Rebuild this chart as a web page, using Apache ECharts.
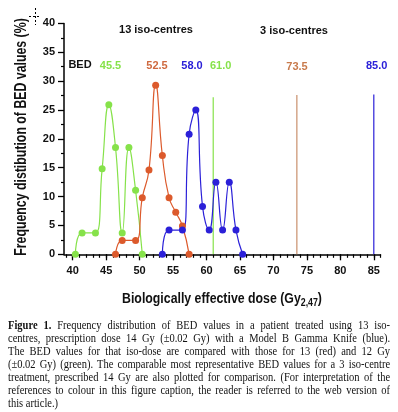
<!DOCTYPE html>
<html>
<head>
<meta charset="utf-8">
<script src="https://cdn.jsdelivr.net/npm/echarts@6/dist/echarts.min.js"></script>
<style>
  html, body { margin: 0; padding: 0; background: #fff; }
  #wrap { position: relative; width: 398px; height: 412px; overflow: hidden; }
  #main { position: absolute; left: 0; top: 0; width: 398px; height: 412px; }
  .caption {
    position: absolute; left: 8px; top: 319px; width: 466px;
    transform: scaleX(0.82); transform-origin: 0 0;
    font-family: "Liberation Serif", "DejaVu Serif", serif; font-size: 12.8px; line-height: 13px; color: #111;
  }
  .caption div { white-space: nowrap; text-align: justify; text-align-last: justify; }
  .caption div.last { text-align-last: left; }
</style>
</head>
<body>
<div id="wrap">
  <div id="main"></div>
  <div class="caption">
    <div><b>Figure 1.</b> Frequency distribution of BED values in a patient treated using 13 iso-</div>
    <div>centres, prescription dose 14 Gy (±0.02 Gy) with a Model B Gamma Knife (blue).</div>
    <div>The BED values for that iso-dose are compared with those for 13 (red) and 12 Gy</div>
    <div>(±0.02 Gy) (green). The comparable most representative BED values for a 3 iso-centre</div>
    <div>treatment, prescribed 14 Gy are also plotted for comparison. (For interpretation of the</div>
    <div>references to colour in this figure caption, the reader is referred to the web version of</div>
    <div class="last">this article.)</div>
  </div>
</div>
<script>
    // 12 Gy (green), 13 Gy (red), 14 Gy (blue) - 13 iso-centres
    var greenX = [40.4, 41.4, 43.4, 44.4, 45.4, 46.4, 47.4, 48.4, 49.4, 50.4];
    var greenY = [0, 3.7, 3.7, 14.8, 25.9, 18.5, 3.7, 18.5, 11.1, 0];
    var redX = [46.4, 47.4, 49.4, 50.4, 51.4, 52.4, 53.4, 54.4, 55.4, 56.4, 57.4];
    var redY = [0, 2.4, 2.4, 9.8, 14.6, 29.3, 17.1, 9.8, 7.3, 4.9, 0];
    var blueX = [53.4, 54.4, 56.4, 57.4, 58.4, 59.4, 60.4, 61.4, 62.4, 63.4, 64.4, 65.4];
    var blueY = [0, 4.2, 4.2, 20.8, 25.0, 8.3, 4.2, 12.5, 4.2, 12.5, 4.2, 0];
    // 3 iso-centres
    var bed3X = [61.0, 73.5, 85.0];
    var bed3Y = [27.2, 27.6, 27.7];

    var xMajor = [40, 45, 50, 55, 60, 65, 70, 75, 80, 85];
    var xMinor = [39, 40, 41, 42, 43, 44, 45, 46, 47, 48, 49, 50, 51, 52, 53, 54, 55, 56, 57, 58, 59, 60,
        61, 62, 63, 64, 65, 66, 67, 68, 69, 70, 71, 72, 73, 74, 75, 76, 77, 78, 79, 80, 81, 82, 83, 84, 85, 86];

    var GREEN = '#86e24a', RED = '#dc5a2c', BLUE = '#2b20d8', TAN = '#c9906c';
    var FONT = '"Liberation Sans", Arial, sans-serif';

    function pairs(xs, ys) {
        return xs.map(function (x, i) { return [x, ys[i]]; });
    }
    function curve(xs, ys, color) {
        return {
            type: 'line', data: pairs(xs, ys), smooth: 0.5,
            symbol: 'circle', symbolSize: 7,
            lineStyle: { color: color, width: 1.2 },
            itemStyle: { color: color },
            z: 3
        };
    }
    function vline(i, color) {
        return {
            type: 'line', data: [[bed3X[i], 0], [bed3X[i], bed3Y[i]]],
            showSymbol: false, symbol: 'none',
            lineStyle: { color: color, width: 1.2 }
        };
    }
    function txt(x, y, s, color, size) {
        return {
            type: 'text', x: x, y: y,
            style: {
                text: s, fill: color, font: 'bold ' + (size || 11) + 'px ' + FONT,
                textAlign: 'center', textVerticalAlign: 'middle'
            }
        };
    }

    var chart = echarts.init(document.getElementById('main'));
    var option = {
        animation: false,
        grid: { left: 64, top: 23.4, width: 316.5, height: 230.9 },
        xAxis: [{
            type: 'value', min: 38.7, max: 86,
            axisLine: { onZero: false, lineStyle: { color: '#000', width: 1.5 } },
            axisTick: { customValues: xMajor, length: 6, lineStyle: { color: '#000', width: 1.3 } },
            axisLabel: { customValues: xMajor, margin: 11, color: '#111', fontWeight: 'bold', fontSize: 11, fontFamily: FONT },
            splitLine: { show: false }
        }, {
            type: 'value', min: 38.7, max: 86, position: 'bottom',
            axisLine: { show: false, onZero: false },
            axisTick: { customValues: xMinor, length: 3.5, lineStyle: { color: '#000', width: 1.2 } },
            axisLabel: { show: false },
            splitLine: { show: false }
        }],
        yAxis: {
            type: 'value', min: 0, max: 40, interval: 5,
            axisLine: { show: true, lineStyle: { color: '#000', width: 1.5 } },
            axisTick: { show: true, length: 6, lineStyle: { color: '#000', width: 1.3 } },
            minorTick: { show: true, splitNumber: 2, length: 3, lineStyle: { color: '#000', width: 1.2 } },
            axisLabel: { margin: 9, color: '#111', fontWeight: 'bold', fontSize: 11, fontFamily: FONT },
            splitLine: { show: false }
        },
        series: [
            vline(0, GREEN), vline(1, TAN), vline(2, BLUE),
            curve(greenX, greenY, GREEN),
            curve(redX, redY, RED),
            curve(blueX, blueY, BLUE)
        ],
        graphic: [
            txt(156, 30, '13 iso-centres', '#111'),
            txt(294, 30.5, '3 iso-centres', '#111'),
            txt(80, 65, 'BED', '#111'),
            txt(110.5, 65.5, '45.5', GREEN),
            txt(157, 65.5, '52.5', '#cf6a40'),
            txt(192, 65.5, '58.0', BLUE),
            txt(220.7, 65.5, '61.0', GREEN),
            txt(297, 67, '73.5', '#c87a4c'),
            txt(376.7, 66, '85.0', BLUE),
            {
                type: 'text', x: 22, y: 137, rotation: Math.PI / 2, scaleX: 0.77,
                style: {
                    text: 'Frequency distibution of BED values (%)', fill: '#111',
                    font: 'bold 16px ' + FONT, textAlign: 'center', textVerticalAlign: 'middle'
                }
            },
            {
                type: 'text', x: 222, y: 299, scaleX: 0.88,
                style: {
                    text: '{m|Biologically effective dose (Gy}{s|2,47}{m|)}',
                    textAlign: 'center', textVerticalAlign: 'middle',
                    rich: {
                        m: { font: 'bold 14px ' + FONT, fill: '#111' },
                        s: { font: 'bold 10px ' + FONT, fill: '#111', padding: [8, 0, 0, 0] }
                    }
                }
            },
            // crop mark
            { type: 'line', shape: { x1: 29, y1: 16.5, x2: 40, y2: 16.5 }, style: { stroke: '#000', lineWidth: 1, lineDash: [2, 2] } },
            { type: 'line', shape: { x1: 35.5, y1: 8, x2: 35.5, y2: 25 }, style: { stroke: '#000', lineWidth: 1, lineDash: [2, 2] } }
        ]
    };
    option && chart.setOption(option);
</script>
</body>
</html>
